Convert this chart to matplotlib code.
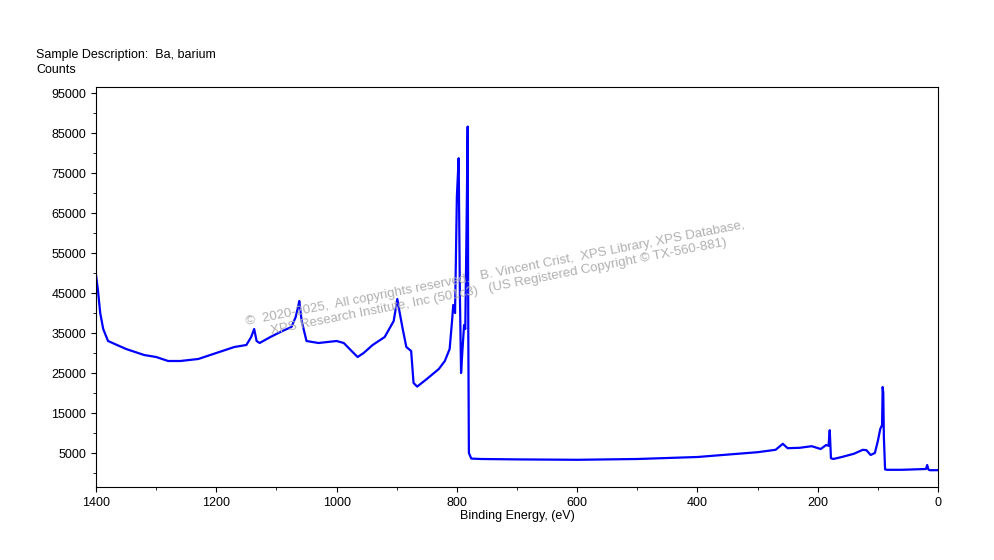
import matplotlib
matplotlib.use("Agg")
import matplotlib.pyplot as plt
from matplotlib.ticker import MultipleLocator

plt.rcParams['font.family'] = ['Liberation Sans', 'DejaVu Sans']

# binding energy (eV) and counts
energy = [1400, 1397, 1393, 1388, 1380, 1365, 1350, 1320, 1300, 1290, 1280, 1260, 1230, 1200,
          1170, 1150, 1142, 1137, 1133, 1128, 1110, 1090, 1075, 1068, 1064, 1062, 1058, 1050, 1030,
          1000, 988, 975, 965, 955, 940, 920, 905, 899, 895, 890, 884, 880, 876, 872, 866,
          850, 830, 820, 812, 808, 806, 803, 800, 797, 795, 793, 791, 788, 786, 784, 782,
          781, 780, 776, 760, 700, 600, 500, 400, 300, 270, 258, 250, 230, 210, 195, 186,
          182, 180, 178, 174, 160, 140, 125, 119, 112, 105, 100, 96, 93, 92, 91, 90, 88, 85,
          60, 40, 20, 18, 16, 14, 0]
counts = [49500, 46000, 40000, 36000, 33000, 32000, 31000, 29500, 29000, 28500, 28000, 28000, 28500, 30000,
          31500, 32000, 34000, 36000, 33000, 32500, 34000, 35500, 36500, 39000, 41500, 43000, 38000, 33000, 32500,
          33000, 32500, 30500, 29000, 30000, 32000, 34000, 38000, 43500, 40000, 36000, 31500, 31000, 30500, 22500, 21600,
          23500, 26000, 28000, 31000, 38000, 42000, 40000, 69000, 78700, 45000, 25000, 30000, 37000, 36000, 60000, 86600,
          36000, 5000, 3600, 3500, 3400, 3300, 3500, 4000, 5200, 5800, 7300, 6200, 6300, 6700, 6000, 7000,
          6800, 10700, 3700, 3500, 4000, 4800, 5800, 5700, 4500, 5000, 8000, 11000, 12000, 21500, 20000, 9000, 900, 800,
          800, 900, 1000, 2000, 900, 700, 700]

fig = plt.figure(figsize=(9.95, 5.6), dpi=100)
ax = fig.add_axes([96 / 995, 1 - 487 / 560, 842 / 995, 400 / 560])
ax.plot(energy, counts, color='#0000ff', lw=1.6)
ax.set_xlim(1400, 0)
ax.set_ylim(-3500, 96500)
ax.set_xticks([1400, 1200, 1000, 800, 600, 400, 200, 0])
ax.xaxis.set_minor_locator(MultipleLocator(100))
ax.set_yticks(range(5000, 96000, 10000))
ax.yaxis.set_minor_locator(MultipleLocator(5000))
ax.tick_params(labelsize=9, direction='out')
ax.set_xlabel('Binding Energy, (eV)', fontsize=9, labelpad=1)

fig.text(36 / 995, 1 - 55 / 560, 'Sample Description:  Ba, barium', fontsize=9, va='center')
fig.text(36 / 995, 1 - 70 / 560, 'Counts', fontsize=9, va='center')

fig.text(497 / 995, 1 - 280 / 560,
         '©  2020-2025,  All copyrights reserved.   B. Vincent Crist,  XPS Library, XPS Database,\n'
         'XPS Research Institute, Inc (501c3)   (US Registered Copyright © TX-560-881)',
         fontsize=9.5, color='#b0b0b0', rotation=11, ha='center', va='center', zorder=0)

fig.savefig('out.png', dpi=100)
